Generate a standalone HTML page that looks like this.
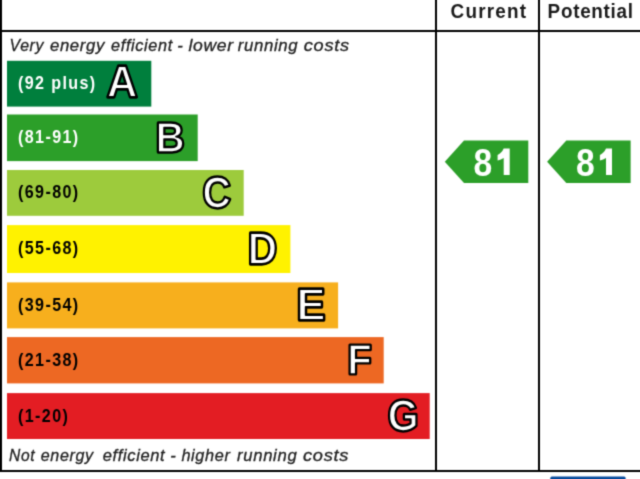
<!DOCTYPE html>
<html><head><meta charset="utf-8">
<style>
html,body{margin:0;padding:0;background:#fff;width:640px;height:479px;overflow:hidden}
svg{display:block}
text{font-family:"Liberation Sans",sans-serif}
.lt{font-weight:bold;font-size:17.5px;letter-spacing:1.5px}
.big{font-weight:bold;font-size:40px;stroke:#000;stroke-width:3.0px;paint-order:stroke;fill:#fff;stroke-linejoin:round}
.big2{font-weight:bold;font-size:40px;stroke:#000;stroke-width:1.6px;fill:none;stroke-linejoin:round}
.it{font-style:italic;font-size:16px;fill:#222;letter-spacing:0.63px;stroke:#222;stroke-width:0.3px}
.hd{font-weight:bold;font-size:19.5px;fill:#1a1a1a;letter-spacing:2px}
.num{font-weight:bold;font-size:37px;fill:#fff}
</style></head><body>
<svg width="640" height="479" viewBox="0 0 640 479">
<rect x="0" y="0" width="640" height="479" fill="#fff"/>
<defs><filter id="f" x="0" y="0" width="640" height="479" filterUnits="userSpaceOnUse" color-interpolation-filters="sRGB"><feConvolveMatrix order="3" kernelMatrix="1 4 1 4 16 4 1 4 1" divisor="36" edgeMode="duplicate"/></filter></defs>
<g filter="url(#f)">
<rect x="0" y="0" width="640" height="479" fill="#fff"/>
<rect x="7" y="60.80" width="144.30" height="45.8" fill="#007f3d"/>
<rect x="7" y="114.50" width="190.70" height="46.6" fill="#2c9f29"/>
<rect x="7" y="170.00" width="236.70" height="45.8" fill="#9dcb3c"/>
<rect x="7" y="225.10" width="283.40" height="47.9" fill="#fff200"/>
<rect x="7" y="282.40" width="331.10" height="46" fill="#f7af1d"/>
<rect x="7" y="337.10" width="376.70" height="46.3" fill="#ed6823"/>
<rect x="7" y="393.10" width="422.70" height="45.9" fill="#e31d23"/>
<text class="lt" transform="translate(18,89.20) scale(0.92,1.04)" fill="#fff">(92 plus)</text>
<text class="lt" transform="translate(18,142.90) scale(0.92,1.04)" fill="#fff">(81-91)</text>
<text class="lt" transform="translate(18,198.40) scale(0.92,1.04)" fill="#000">(69-80)</text>
<text class="lt" transform="translate(18,253.50) scale(0.92,1.04)" fill="#000">(55-68)</text>
<text class="lt" transform="translate(18,310.80) scale(0.92,1.04)" fill="#000">(39-54)</text>
<text class="lt" transform="translate(18,365.50) scale(0.92,1.04)" fill="#000">(21-38)</text>
<text class="lt" transform="translate(18,421.50) scale(0.92,1.04)" fill="#000">(1-20)</text>
<text class="big" transform="translate(106.63,97.35) scale(1.066,1.126)">A</text>
<text class="big2" transform="translate(106.63,97.35) scale(1.066,1.126)">A</text>
<text class="big" transform="translate(155.41,151.86) scale(1.012,1.084)">B</text>
<text class="big2" transform="translate(155.41,151.86) scale(1.012,1.084)">B</text>
<text class="big" transform="translate(202.43,208.14) scale(0.983,1.086)">C</text>
<text class="big2" transform="translate(202.43,208.14) scale(0.983,1.086)">C</text>
<text class="big" transform="translate(247.83,263.89) scale(1.017,1.126)">D</text>
<text class="big2" transform="translate(247.83,263.89) scale(1.017,1.126)">D</text>
<text class="big" transform="translate(296.48,320.32) scale(1.085,1.110)">E</text>
<text class="big2" transform="translate(296.48,320.32) scale(1.085,1.110)">E</text>
<text class="big" transform="translate(347.18,374.37) scale(1.005,1.068)">F</text>
<text class="big2" transform="translate(347.18,374.37) scale(1.005,1.068)">F</text>
<text class="big" transform="translate(387.65,431.25) scale(0.991,1.088)">G</text>
<text class="big2" transform="translate(387.65,431.25) scale(0.991,1.088)">G</text>
<text class="it" transform="translate(9.56,50.7) scale(0.991,1)">Very</text><text class="it" transform="translate(49.90,50.7) scale(1.048,1)">energy</text><text class="it" transform="translate(111.10,50.7) scale(1.015,1)">efficient</text><text class="it" transform="translate(177.30,50.7) scale(1.050,1)">-</text><text class="it" transform="translate(188.40,50.7) scale(1.100,1)">lower</text><text class="it" transform="translate(237.70,50.7) scale(1.050,1)">running</text><text class="it" transform="translate(303.80,50.7) scale(1.134,1)">costs</text>
<text class="it" transform="translate(9.10,460.5) scale(0.976,1)">Not</text><text class="it" transform="translate(40.80,460.5) scale(1.005,1)">energy</text><text class="it" transform="translate(102.70,460.5) scale(1.030,1)">efficient</text><text class="it" transform="translate(170.30,460.5) scale(1.050,1)">-</text><text class="it" transform="translate(181.40,460.5) scale(1.018,1)">higher</text><text class="it" transform="translate(237.00,460.5) scale(1.045,1)">running</text><text class="it" transform="translate(303.00,460.5) scale(1.139,1)">costs</text>
<text class="hd" style="letter-spacing:1.25px" transform="translate(450.6,17.9) scale(0.97,1)">Current</text>
<text class="hd" style="letter-spacing:0.72px" transform="translate(547.6,18.1) scale(0.97,1)">Potential</text>
<g id="arr">
<polygon points="444.8,161.8 464,140.6 528.3,140.6 528.3,183 464,183" fill="#2c9f29"/>
<text class="num" transform="translate(473.6,175.6) scale(0.91,1.027)">8</text>
<path d="M503.7,148.6 H509.7 V174.9 H503.7 V157.9 Q501,159.6 497.6,160.4 V154.9 Q501.8,153.1 503.7,148.6 Z" fill="#fff"/>
</g>
<use href="#arr" transform="translate(102.3,0)"/>
<rect x="0" y="0" width="2" height="472" fill="#000"/>
<rect x="0" y="30" width="640" height="2" fill="#000"/>
<rect x="0" y="470" width="640" height="2" fill="#000"/>
<rect x="435" y="0" width="2" height="472" fill="#000"/>
<rect x="538" y="0" width="2" height="472" fill="#000"/>
<rect x="550.3" y="476.5" width="75.3" height="6" rx="1.5" fill="#0b4d9d"/>
</g>
</svg>
</body></html>
